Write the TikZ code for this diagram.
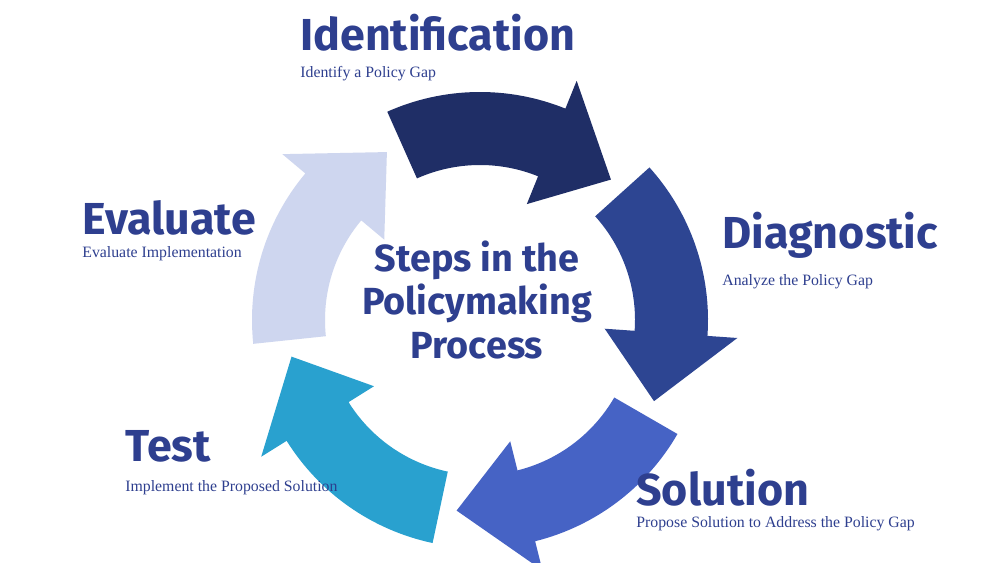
\documentclass[tikz,border=0pt]{standalone}
\usetikzlibrary{calc}
\usepackage{fontspec}
\setmainfont{Liberation Serif}
\newfontfamily\tf{Fira Sans}
\definecolor{tc}{HTML}{2E3F8F}
\definecolor{c0}{HTML}{1F2E66}
\definecolor{c1}{HTML}{2D4592}
\definecolor{c2}{HTML}{4663C5}
\definecolor{c3}{HTML}{29A1CF}
\definecolor{c4}{HTML}{CED6EF}
\begin{document}
\begin{tikzpicture}[x=0.02cm,y=-0.02cm,
  ttl/.style={anchor=west,text=tc,font=\tf\fontsize{25.5}{30}\selectfont\bfseries,inner sep=0},
  sub/.style={anchor=west,text=tc,font=\fontsize{9}{10}\selectfont,inner sep=0}]
\useasboundingbox[fill=white] (0,0) rectangle (1000,563);
\coordinate (O) at (480,320);
\def\ro{228}\def\ri{155}\def\rho{258}\def\rhi{125}\def\rm{192}
\foreach \k/\c in {0/c0,1/c1,2/c2,3/c3,4/c4}{
  \pgfmathsetmacro\a{-114+72*\k}
  \pgfmathsetmacro\b{\a+46}
  \pgfmathsetmacro\t{\a+67}
  \fill[\c] ($(O)+(\a:\ro)$) arc[start angle=\a,end angle=\b,radius=\ro]
    -- ($(O)+(\b:\rho)$) -- ($(O)+(\t:\rm)$) -- ($(O)+(\b:\rhi)$)
    -- ($(O)+(\b:\ri)$) arc[start angle=\b,end angle=\a,radius=\ri] -- cycle;
}
\node[ttl] (t1) at (300,33) {Identification};
\node[sub] (s1) at (300,74) {Identify a Policy Gap};
\node[ttl] (t2) at (722,235) {Diagnostic};
\node[sub] (s2) at (722,282) {Analyze the Policy Gap};
\node[ttl] (t3) at (636,488) {Solution};
\node[sub] (s3) at (636,524) {Propose Solution to Address the Policy Gap};
\node[ttl] (t4) at (125,446) {Test};
\node[sub] (s4) at (125,488) {Implement the Proposed Solution};
\node[ttl] (t5) at (82,218) {Evaluate};
\node[sub] (s5) at (82,254) {Evaluate Implementation};
\node[text=tc,font=\tf\fontsize{21.5}{25}\selectfont\bfseries,align=center] (c) at (477,300) {Steps in the\\Policymaking\\Process};
\end{tikzpicture}
\end{document}
